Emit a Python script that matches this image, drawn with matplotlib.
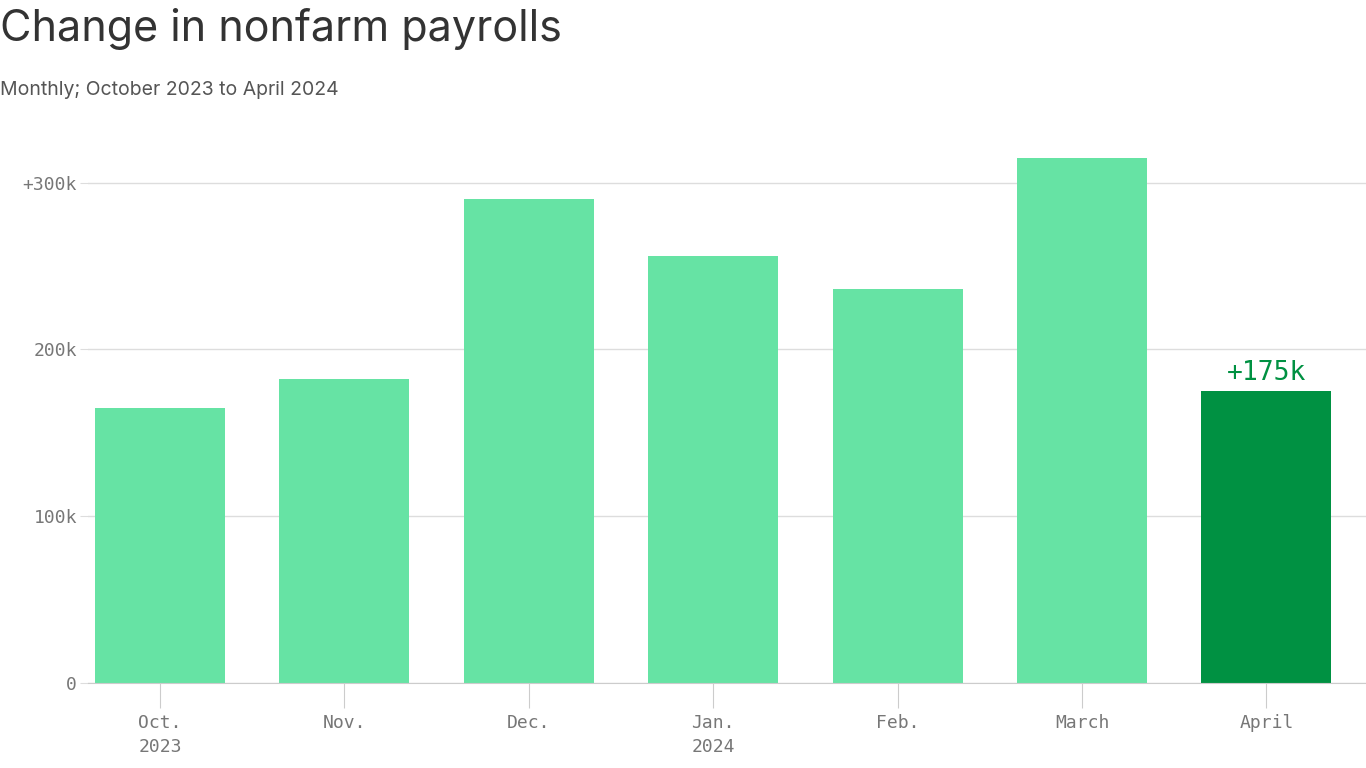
import matplotlib
matplotlib.use("Agg")
import matplotlib.pyplot as plt

months = ["Oct.", "Nov.", "Dec.", "Jan.", "Feb.", "March", "April"]
years = ["2023", "", "", "2024", "", "", ""]
values = [165, 182, 290, 256, 236, 315, 175]
yticks = [0, 100, 200, 300]
ylabels = ["0", "100k", "200k", "+300k"]

fig = plt.figure(figsize=(13.66, 7.68), dpi=100)
ax = fig.add_axes([0.0644, 0.1107, 0.9356, 0.695])
colors = ["#66e3a4"] * 6 + ["#009142"]
x = list(range(len(values)))
ax.bar(x, values, width=0.705, color=colors, zorder=2)
ax.set_xlim(-0.39, 6.54)
ax.set_ylim(0, 320)
ax.set_yticks(yticks)
ax.set_yticklabels(ylabels, family="DejaVu Sans Mono", color="#777777", fontsize=13)
ax.grid(axis="y", color="#dddddd", lw=1, zorder=0)
for s in ["top", "right", "left"]:
    ax.spines[s].set_visible(False)
ax.spines["bottom"].set_color("#cccccc")
ax.tick_params(axis="y", length=6, color="#dddddd", pad=2)
ax.set_xticks(x)
ax.set_xticklabels([m + ("\n" + y if y else "") for m, y in zip(months, years)],
                   family="DejaVu Sans Mono", color="#777777", fontsize=13, linespacing=1.45, va="top")
ax.tick_params(axis="x", length=18, color="#cccccc", pad=4)
ax.text(6, values[6] + 3, "+175k", ha="center", va="bottom", family="DejaVu Sans Mono",
        color="#009142", fontsize=19)
fig.text(0.0, 0.962, "Change in nonfarm payrolls", fontsize=31, color="#333333", va="center", family="Inter")
fig.text(0.0, 0.883, "Monthly; October 2023 to April 2024", fontsize=14, color="#555555", va="center", family="Inter")
fig.savefig("out.png", dpi=100)
